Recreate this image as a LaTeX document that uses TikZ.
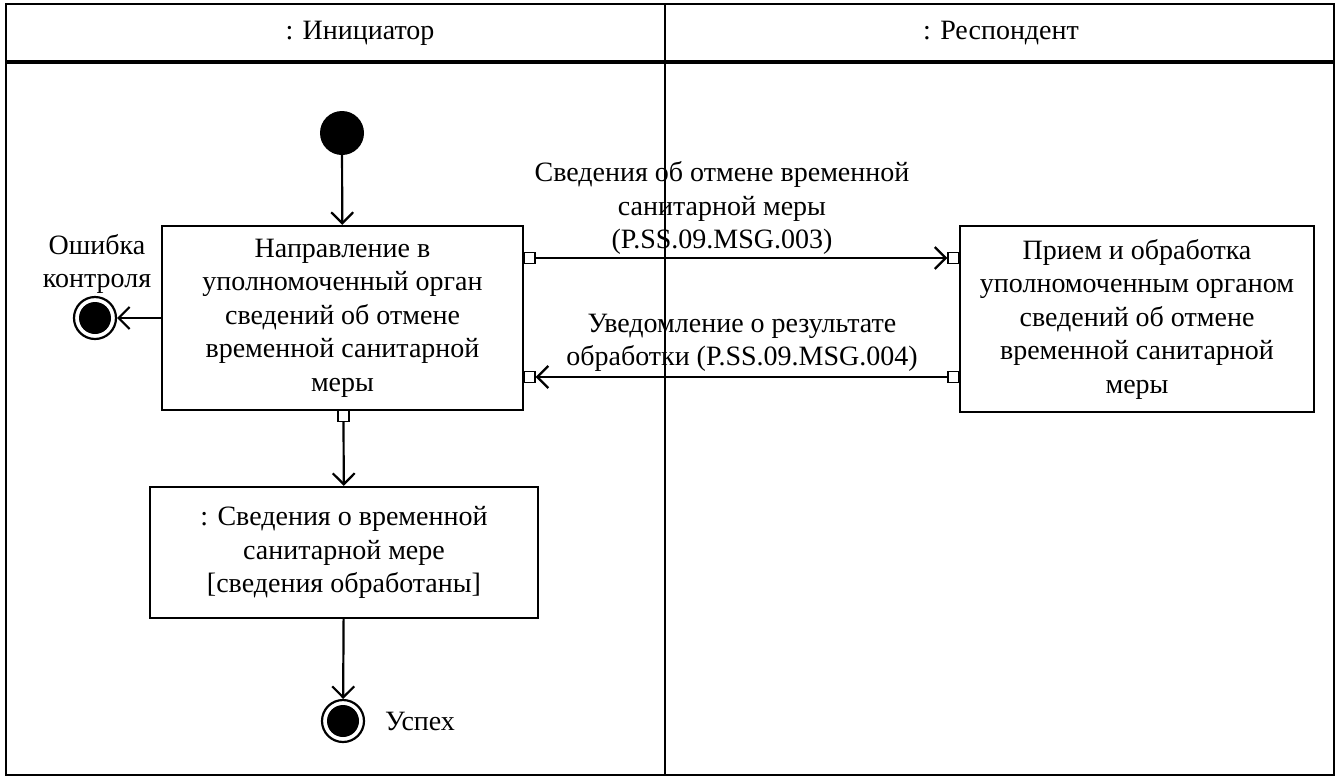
\documentclass[tikz,border=0pt]{standalone}
\usepackage{fontspec}
\setmainfont{Liberation Serif}
\usetikzlibrary{arrows.meta,positioning}
\tikzset{
	act/.style={draw,line width=2.4pt,align=center,inner sep=0pt,font=\fontsize{28}{33.5}\selectfont},
	port/.style={draw,line width=1.4pt,fill=white,minimum size=11pt,inner sep=0pt},
	flow/.style={line width=2.2pt,-{Straight Barb[length=11pt,width=22pt,line width=2.2pt]}},
	lbl/.style={align=center,inner sep=0pt,font=\fontsize{28}{33.5}\selectfont},
	fin/.style={circle,draw,line width=2.2pt,minimum size=42pt,inner sep=0pt}
}
\begin{document}
\begin{tikzpicture}[x=1pt,y=-1pt]
	\useasboundingbox (0,0) rectangle (1340,782);
	\begin{scope}
		% swimlanes
		\draw[line width=2.6pt] (6,4) rectangle (1334,775);
		\draw[line width=3.5pt] (6,62) -- (1334,62);
		\draw[line width=2pt] (665,4) -- (665,775);
		\node[lbl,font=\fontsize{28}{30}\selectfont] (lane1) at (360,33) {: Инициатор};
		\node[lbl,font=\fontsize{28}{30}\selectfont] (lane2) at (1001,33) {: Респондент};

		\node[circle,fill=black,minimum size=44pt,inner sep=0pt] (start) at (342,133) {};
		\node[act,minimum width=361pt,minimum height=184pt] (send) at (342.5,318) {Направление в\\уполномоченный орган\\сведений об отмене\\временной санитарной\\меры};
		\node[act,minimum width=354pt,minimum height=186pt] (recv) at (1137,319) {Прием и обработка\\уполномоченным органом\\сведений об отмене\\временной санитарной\\меры};
		\node[act,minimum width=388pt,minimum height=131pt] (obj) at (344,552.5) {: Сведения о временной\\санитарной мере\\{[}сведения обработаны{]}};

		\node[port] (o1) at (529.5,258) {};
		\node[port] (i1) at (529.5,377) {};
		\node[port] (o3) at (343.5,416) {};
		\node[port] (i2) at (953.5,258) {};
		\node[port] (o2) at (953.5,377) {};

		\node[fin] (err) at (95,318) {};
		\fill (err.center) circle (16pt);
		\node[fin] (done) at (343,721) {};
		\fill (done.center) circle (16pt);

		\node[lbl] (errtxt) at (97,264) {Ошибка\\контроля};
		\node[lbl] (donetxt) at (420,721) {Успех};
		\node[lbl] (msg1) at (722,208) {Сведения об отмене временной\\санитарной меры\\(P.SS.09.MSG.003)};
		\node[lbl] (msg2) at (742,343) {Уведомление о результате\\обработки (P.SS.09.MSG.004)};

		\draw[flow] (start) -- (send);
		\draw[flow] (send.west |- err) -- (err);
		\draw[flow] (o1) -- (i2);
		\draw[flow] (o2) -- (i1);
		\draw[flow] (o3) -- (obj);
		\draw[flow] (obj) -- (done);
	\end{scope}
\end{tikzpicture}
\end{document}
